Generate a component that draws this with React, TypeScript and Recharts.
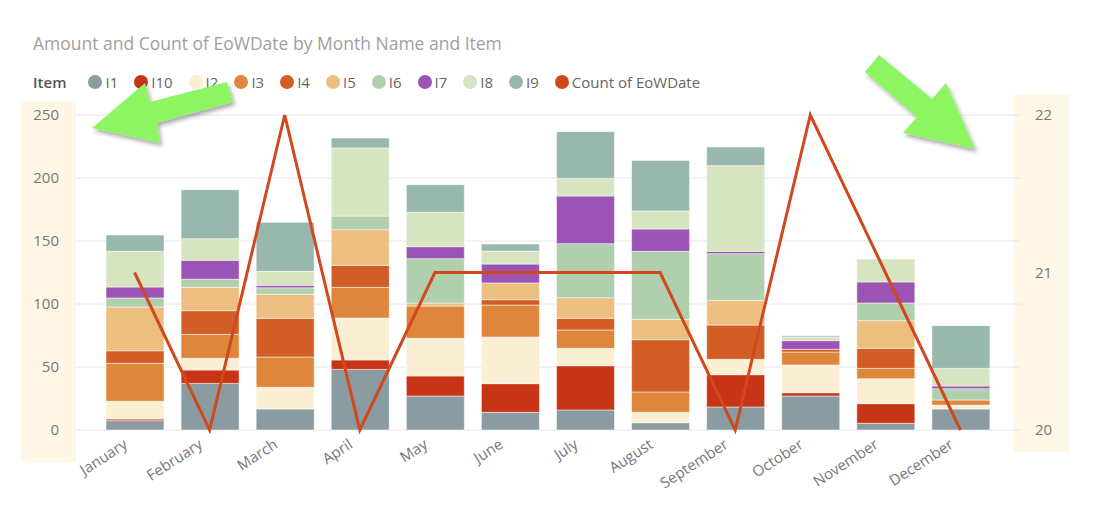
import React from "react";
import {
  ComposedChart,
  Bar,
  Line,
  XAxis,
  YAxis,
  CartesianGrid,
} from "recharts";

const FONT = "'Segoe UI', 'Open Sans', sans-serif";

const months = [
  "January", "February", "March", "April", "May", "June",
  "July", "August", "September", "October", "November", "December",
];

// amounts per item, bottom of the stack first
const i1 = [7.4, 37, 16.7, 48.1, 27, 14, 15.9, 5.8, 18.3, 27, 5.3, 16.7];
const i10 = [1.3, 10.6, 0, 7.5, 15.9, 22.8, 35.1, 0, 25.6, 2.6, 15.6, 0];
const i2 = [14.1, 9.3, 17.2, 33.3, 29.9, 37, 13.8, 8.2, 12.2, 22, 19.8, 3.1];
const i3 = [30.1, 19, 24, 24.3, 25.6, 25.4, 14.6, 16.2, 0, 10.3, 8.2, 4];
const i4 = [10, 18.8, 30.7, 17.5, 0, 4.2, 9.2, 41.5, 27.2, 2.1, 15.9, 0];
const i5 = [34.7, 18.5, 19.1, 28.3, 2.4, 13.3, 16.4, 16.1, 19.6, 0, 22, 0];
const i6 = [7.2, 6.4, 5.2, 10.8, 35.2, 0, 42.9, 54, 37, 0, 14, 9];
const i7 = [8.7, 15.1, 1.9, 0, 9.5, 15, 37.8, 17.7, 1.9, 6.9, 16.7, 2.1];
const i8 = [28.3, 17.1, 11.1, 54, 27.3, 10.3, 14, 14.3, 68, 2.9, 18.2, 14];
const i9 = [13, 38.9, 38.9, 7.9, 21.9, 5.6, 37.1, 40, 14.8, 1, 0, 33.9];

const countOfEoWDate = [21, 20, 22, 20, 21, 21, 21, 21, 20, 22, 21, 20];

const amountTicks = [0, 50, 100, 150, 200, 250];
const countTicks = [20, 21, 22];

const items = [
  { key: "I1", values: i1, color: "#8A9BA2" },
  { key: "I10", values: i10, color: "#C83416" },
  { key: "I2", values: i2, color: "#FAEED3" },
  { key: "I3", values: i3, color: "#DE863B" },
  { key: "I4", values: i4, color: "#D25E25" },
  { key: "I5", values: i5, color: "#ECBF80" },
  { key: "I6", values: i6, color: "#AFCFAD" },
  { key: "I7", values: i7, color: "#9B54B5" },
  { key: "I8", values: i8, color: "#D6E4BF" },
  { key: "I9", values: i9, color: "#99B8AD" },
];
const lineColor = "#D0491E";

const chartData = months.map((m, i) => {
  const row: Record<string, string | number> = { month: m, count: countOfEoWDate[i] };
  items.forEach((it) => {
    row[it.key] = it.values[i];
  });
  return row;
});

function MonthTick(props: any) {
  const { x, y, payload } = props;
  const tx = x - 6;
  const ty = y + 17;
  return (
    <text
      x={tx}
      y={ty}
      textAnchor="end"
      fill="#777"
      fontSize={15}
      fontFamily={FONT}
      transform={`rotate(-33 ${tx} ${ty})`}
    >
      {payload.value}
    </text>
  );
}

function LegendRow() {
  const entries = [
    ...items.map((it) => ({ name: it.key, color: it.color })),
    { name: "Count of EoWDate", color: lineColor },
  ];
  return (
    <div
      style={{
        position: "absolute",
        left: 33,
        top: 73,
        height: 18,
        display: "flex",
        alignItems: "center",
        fontFamily: FONT,
        fontSize: 15,
        color: "#666",
        whiteSpace: "nowrap",
      }}
    >
      <span style={{ fontWeight: 600, color: "#555", marginRight: 22 }}>Item</span>
      {entries.map((e) => (
        <span key={e.name} style={{ display: "flex", alignItems: "center", marginRight: 16 }}>
          <span
            style={{
              width: 14,
              height: 14,
              borderRadius: 7,
              background: e.color,
              marginRight: 3,
            }}
          />
          {e.name}
        </span>
      ))}
    </div>
  );
}

export default function App() {
  return (
    <div
      style={{
        position: "fixed",
        left: 0,
        top: 0,
        width: 1106,
        height: 519,
        background: "#fff",
        overflow: "hidden",
      }}
    >
      {/* highlighted axis areas */}
      <div style={{ position: "absolute", left: 21, top: 101, width: 55, height: 361, background: "#FEF7E5" }} />
      <div style={{ position: "absolute", left: 1014, top: 95, width: 55, height: 357, background: "#FEF7E5" }} />

      <div
        style={{
          position: "absolute",
          left: 33,
          top: 31,
          fontFamily: FONT,
          fontSize: 17.5,
          color: "#A0A0A0",
          whiteSpace: "nowrap",
        }}
      >
        Amount and Count of EoWDate by Month Name and Item
      </div>

      <LegendRow />

      <ComposedChart
        width={1106}
        height={519}
        data={chartData}
        margin={{ top: 115, right: 0, bottom: 0, left: 0 }}
        style={{ position: "absolute", left: 0, top: 0 }}
      >
        <CartesianGrid yAxisId="left" vertical={false} stroke="#E6E6E6" />
        <XAxis
          dataKey="month"
          height={89}
          axisLine={false}
          tickLine={false}
          tickSize={0}
          tickMargin={0}
          interval={0}
          padding={{ left: 22, right: 23 }}
          tick={<MonthTick />}
        />
        <YAxis
          yAxisId="left"
          width={75}
          domain={[0, 250]}
          ticks={amountTicks}
          axisLine={false}
          tickLine={false}
          tickSize={0}
          tickMargin={16}
          tick={{ fill: "#777", fontSize: 15, fontFamily: FONT }}
        />
        <YAxis
          yAxisId="right"
          orientation="right"
          width={85}
          domain={[20, 22]}
          ticks={countTicks}
          axisLine={false}
          tickLine={false}
          tickSize={0}
          tickMargin={14}
          tick={{ fill: "#777", fontSize: 15, fontFamily: FONT }}
        />
        {items.map((it) => (
          <Bar
            key={it.key}
            yAxisId="left"
            dataKey={it.key}
            stackId="amount"
            fill={it.color}
            stroke="#ffffff"
            strokeOpacity={0.5}
            strokeWidth={1}
            barSize={58}
            isAnimationActive={false}
          />
        ))}
        <Line
          yAxisId="right"
          type="linear"
          dataKey="count"
          stroke={lineColor}
          strokeWidth={3}
          dot={false}
          activeDot={false}
          isAnimationActive={false}
        />
      </ComposedChart>

      {/* callout arrows */}
      <svg
        width={1106}
        height={519}
        style={{ position: "absolute", left: 0, top: 0, pointerEvents: "none" }}
      >
        <defs>
          <filter id="arrowShadow" x="-30%" y="-30%" width="160%" height="160%">
            <feDropShadow dx="2" dy="3" stdDeviation="2" floodColor="#000" floodOpacity="0.35" />
          </filter>
        </defs>
        <polygon
          points="92,128 145,83 150,102 227,82 233,102 157,123 160,143"
          fill="#8DF462"
          filter="url(#arrowShadow)"
        />
        <polygon
          points="879,55 932,99 946,83 975,149 903,133 917,117 865,72"
          fill="#8DF462"
          filter="url(#arrowShadow)"
        />
      </svg>
    </div>
  );
}
